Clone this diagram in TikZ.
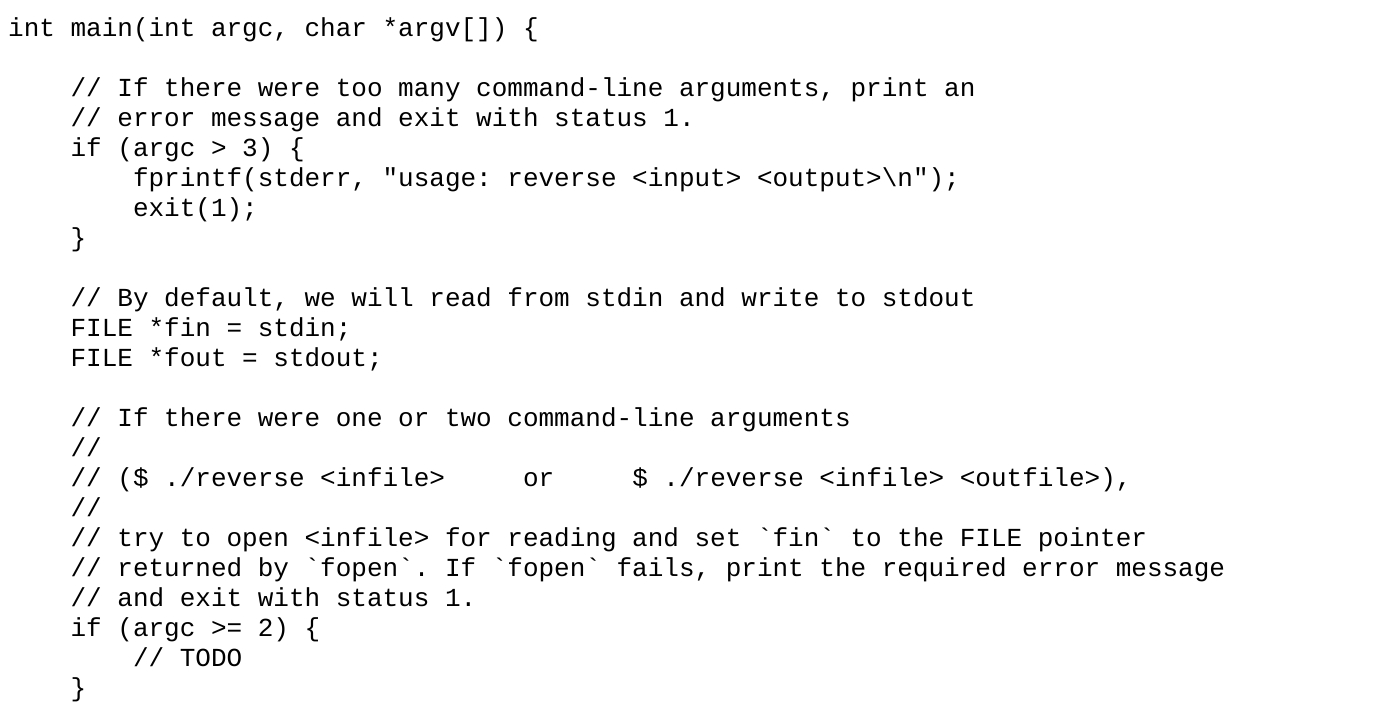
\documentclass[tikz,border=0pt]{standalone}
\usepackage{fontspec}
\setmonofont{Liberation Mono}
\begin{document}
\begin{tikzpicture}[x=1pt,y=-1pt,
  code/.style={anchor=base west,inner sep=0pt,font=\fontsize{26}{30}\ttfamily,text=black}]
\useasboundingbox[fill=white] (0,0) rectangle (1396,720);
\def\cw{15.6}
\newcommand\codeline[4]{\node[code] (#1) at ({8+\cw*#2},{36+30*#3}) {#4};}
\codeline{l0}{0}{0}{int main(int argc, char *argv[]) \{}
\codeline{l2}{4}{2}{// If there were too many command-line arguments, print an}
\codeline{l3}{4}{3}{// error message and exit with status 1.}
\codeline{l4}{4}{4}{if (argc > 3) \{}
\codeline{l5}{8}{5}{fprintf(stderr, "usage: reverse <input> <output>\textbackslash n");}
\codeline{l6}{8}{6}{exit(1);}
\codeline{l7}{4}{7}{\}}
\codeline{l9}{4}{9}{// By default, we will read from stdin and write to stdout}
\codeline{l10}{4}{10}{FILE *fin = stdin;}
\codeline{l11}{4}{11}{FILE *fout = stdout;}
\codeline{l13}{4}{13}{// If there were one or two command-line arguments}
\codeline{l14}{4}{14}{//}
\codeline{l15}{4}{15}{// (\$ ./reverse <infile>~~~~~or~~~~~\$ ./reverse <infile> <outfile>),}
\codeline{l16}{4}{16}{//}
\codeline{l17}{4}{17}{// try to open <infile> for reading and set `fin` to the FILE pointer}
\codeline{l18}{4}{18}{// returned by `fopen`. If `fopen` fails, print the required error message}
\codeline{l19}{4}{19}{// and exit with status 1.}
\codeline{l20}{4}{20}{if (argc >= 2) \{}
\codeline{l21}{8}{21}{// TODO}
\codeline{l22}{4}{22}{\}}
\end{tikzpicture}
\end{document}
